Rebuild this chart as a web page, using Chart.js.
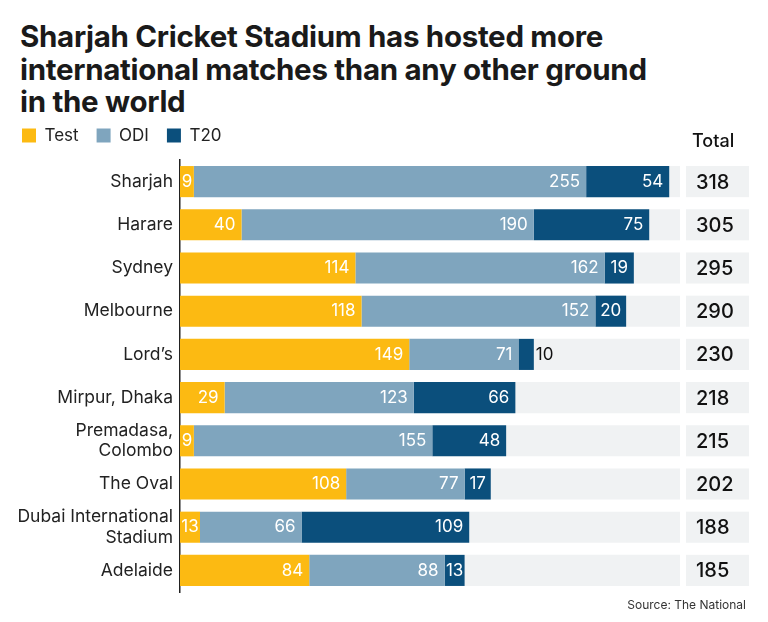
<!DOCTYPE html>
<html>
<head>
<meta charset="utf-8">
<script src="https://cdn.jsdelivr.net/npm/chart.js@4"></script>
<style>
  body { margin: 0; background: #fff; }
  #wrap { position: relative; width: 768px; height: 622px; }
  h1 {
    position: absolute; left: 20px; top: 20px; margin: 0;
    font-family: Inter, "Noto Sans", sans-serif; font-weight: 700;
    font-size: 29.5px; line-height: 32.5px; color: #1a1a1a; letter-spacing: -0.3px;
  }
  #box { position: absolute; left: 0; top: 109px; width: 768px; height: 513px; }
</style>
</head>
<body>
<div id="wrap">
  <h1>Sharjah Cricket Stadium has hosted more<br>international matches than any other ground<br>in the world</h1>
  <div id="box"><canvas id="canvas"></canvas></div>
</div>
<script>
var grounds = [
  'Sharjah', 'Harare', 'Sydney', 'Melbourne', "Lord\u2019s", 'Mirpur, Dhaka',
  ['Premadasa,', 'Colombo'], 'The Oval', ['Dubai International', 'Stadium'], 'Adelaide'
];
var testMatches = [9, 40, 114, 118, 149, 29, 9, 108, 13, 84];
var odiMatches  = [255, 190, 162, 152, 71, 123, 155, 77, 66, 88];
var t20Matches  = [54, 75, 19, 20, 10, 66, 48, 17, 109, 13];
var totals      = [318, 305, 295, 290, 230, 218, 215, 202, 188, 185];
var scaleMax = 325;

var FONT = 'Inter, "Noto Sans", sans-serif';

// grey track behind each bar, up to the end of the scale
var restOfTrack = testMatches.map(function(v, i) {
  return scaleMax - v - odiMatches[i] - t20Matches[i];
});

var barData = {
  labels: grounds,
  datasets: [
    { label: 'Test', data: testMatches, backgroundColor: '#fcba12' },
    { label: 'ODI', data: odiMatches, backgroundColor: '#7fa5be' },
    { label: 'T20', data: t20Matches, backgroundColor: '#0b4f7c' },
    { label: 'track', data: restOfTrack, backgroundColor: '#f0f2f3' }
  ]
};

var labelsPlugin = {
  id: 'labels',
  afterDatasetsDraw: function(chart) {
    var ctx = chart.ctx;
    var area = chart.chartArea;
    ctx.save();
    ctx.font = '400 17px ' + FONT;
    ctx.textBaseline = 'middle';
    for (var d = 0; d < 3; d++) {
      var meta = chart.getDatasetMeta(d);
      meta.data.forEach(function(bar, i) {
        var val = chart.data.datasets[d].data[i];
        var txt = String(val);
        var w = ctx.measureText(txt).width;
        var left = bar.base, right = bar.x;
        var segW = right - left;
        if (w + 2 > segW && d === 2) {
          ctx.fillStyle = '#111';
          ctx.textAlign = 'left';
          ctx.fillText(txt, right + 2, bar.y);
        } else if (w + 12 > segW) {
          ctx.fillStyle = '#fff';
          ctx.textAlign = 'center';
          ctx.fillText(txt, (left + right) / 2, bar.y);
        } else {
          ctx.fillStyle = '#fff';
          ctx.textAlign = 'right';
          ctx.fillText(txt, right - 6, bar.y);
        }
      });
    }

    // total column
    var meta0 = chart.getDatasetMeta(0);
    var bx = area.right + 6, bw = 63;
    meta0.data.forEach(function(bar, i) {
      var h = bar.height;
      ctx.fillStyle = '#f0f2f3';
      ctx.fillRect(bx, bar.y - h / 2, bw, h);
      ctx.fillStyle = '#111';
      ctx.font = '500 20px ' + FONT;
      ctx.textAlign = 'left';
      ctx.fillText(String(totals[i]), bx + 10, bar.y + 1);
    });
    ctx.font = '500 18px ' + FONT;
    ctx.fillStyle = '#111';
    ctx.textAlign = 'left';
    ctx.fillText('Total', bx + 6, area.top - 18);

    ctx.font = '400 12px ' + FONT;
    ctx.fillStyle = '#333';
    ctx.textAlign = 'right';
    ctx.fillText('Source: The National', bx + bw - 3, area.bottom + 13);
    ctx.restore();
  }
};

window.onload = function() {
  var ctx = document.getElementById('canvas').getContext('2d');
  window.myBar = new Chart(ctx, {
    type: 'bar',
    data: barData,
    plugins: [labelsPlugin],
    options: {
      indexAxis: 'y',
      responsive: true,
      maintainAspectRatio: false,
      animation: false,
      layout: { padding: { left: 4, right: 88, top: 0, bottom: 30 } },
      datasets: { bar: { barPercentage: 0.72, categoryPercentage: 1 } },
      scales: {
        x: {
          stacked: true, min: 0, max: scaleMax, position: 'top',
          ticks: { display: false },
          grid: { display: false, drawTicks: false },
          border: { display: false },
          afterFit: function(scale) { scale.height = 6; }
        },
        y: {
          stacked: true,
          grid: { display: false, drawTicks: false },
          border: { display: true, color: '#222', width: 1.5 },
          ticks: {
            color: '#222', padding: 7, autoSkip: false,
            font: { family: FONT, size: 17.5, lineHeight: 1.15 }
          },
          afterFit: function(scale) { scale.width = 176; }
        }
      },
      plugins: {
        tooltip: { enabled: false },
        legend: {
          position: 'top',
          align: 'start',
          labels: {
            color: '#222',
            boxWidth: 14, boxHeight: 14, padding: 18,
            font: { family: FONT, size: 17 },
            filter: function(item) { return item.text !== 'track'; }
          }
        }
      }
    }
  });
};
</script>
</body>
</html>
